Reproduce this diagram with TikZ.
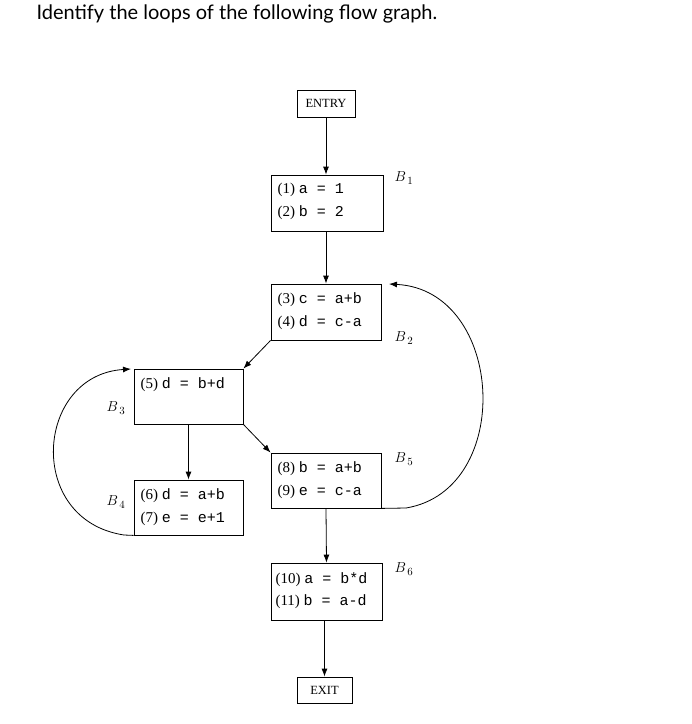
\documentclass[tikz,border=0pt]{standalone}
\usepackage{fontspec}
\newfontfamily\titlefont{Lato}
\setmainfont{Liberation Serif}
\setmonofont{Liberation Mono}
\usetikzlibrary{arrows.meta}
\begin{document}
\begin{tikzpicture}[x=1pt,y=-1pt,
  code/.style={anchor=west,font=\fontsize{15}{17}\selectfont},
  arr/.style={-{Latex[length=8pt,width=6pt]},thick},
  lab/.style={font=\fontsize{15}{17}\selectfont}]
\useasboundingbox (0,0) rectangle (692,724);
\node[anchor=west,font=\titlefont\fontsize{20}{24}\selectfont] (title) at (33,14) {Identify the loops of the following flow graph.};
\node[draw,thick,minimum width=58pt,minimum height=27pt,font=\fontsize{12.5}{14}\selectfont] (entry) at (326,103.5) {ENTRY};
\node[draw,thick,minimum width=112pt,minimum height=56pt] (b1) at (327,203) {};
\node[draw,thick,minimum width=110pt,minimum height=56pt] (b2) at (326,312) {};
\node[draw,thick,minimum width=109pt,minimum height=55pt] (b3) at (188.5,396.5) {};
\node[draw,thick,minimum width=109pt,minimum height=55pt] (b4) at (188.5,507.5) {};
\node[draw,thick,minimum width=110pt,minimum height=55pt] (b5) at (326,480.5) {};
\node[draw,thick,minimum width=111pt,minimum height=57pt] (b6) at (326.5,591.5) {};
\node[draw,thick,minimum width=55pt,minimum height=26pt,font=\fontsize{12.5}{14}\selectfont] (exit) at (324.5,690) {EXIT};
\node[code] (t1) at (274,190) {(1) \texttt{a = 1}};
\node[code] (t2) at (274,213) {(2) \texttt{b = 2}};
\node[code] (t3) at (274,300) {(3) \texttt{c = a+b}};
\node[code] (t4) at (274,323) {(4) \texttt{d = c-a}};
\node[code] (t5) at (137,385) {(5) \texttt{d = b+d}};
\node[code] (t6) at (137,496) {(6) \texttt{d = a+b}};
\node[code] (t7) at (137,519) {(7) \texttt{e = e+1}};
\node[code] (t8) at (274,469) {(8) \texttt{b = a+b}};
\node[code] (t9) at (274,492) {(9) \texttt{e = c-a}};
\node[code] (t10) at (272,580) {(10) \texttt{a = b*d}};
\node[code] (t11) at (272,602) {(11) \texttt{b = a-d}};
\node[lab] (l1) at (404,178) {$B_{\,1}$};
\node[lab] (l2) at (404,338) {$B_{\,2}$};
\node[lab] (l3) at (116,408) {$B_{\,3}$};
\node[lab] (l4) at (116,502) {$B_{\,4}$};
\node[lab] (l5) at (404,459) {$B_{\,5}$};
\node[lab] (l6) at (404,569) {$B_{\,6}$};
\draw[arr] (entry) -- (entry|-b1.north);
\draw[arr] (b1.south-|entry) -- (entry|-b2.north);
\draw[arr] (b2.south west) -- (b3.north east);
\draw[arr] (b3.south) -- (b4.north);
\draw[arr] (b3.south east) -- (b5.north west);
\draw[arr] (b5.south) -- (b6.north);
\draw[arr] (b6.south-|exit) -- (exit.north);
\coordinate (r5) at (406,508);
\coordinate (r2) at (389,284);
\draw[thick] (b5.south east) -- (r5);
\draw[arr] (r5) .. controls (515,490) and (505,290) .. (r2);
\coordinate (l4c) at (124,535);
\coordinate (l3c) at (131,369);
\draw[thick] (b4.south west) -- (l4c);
\draw[arr] (l4c) .. controls (25,520) and (35,375) .. (l3c);
\end{tikzpicture}
\end{document}
